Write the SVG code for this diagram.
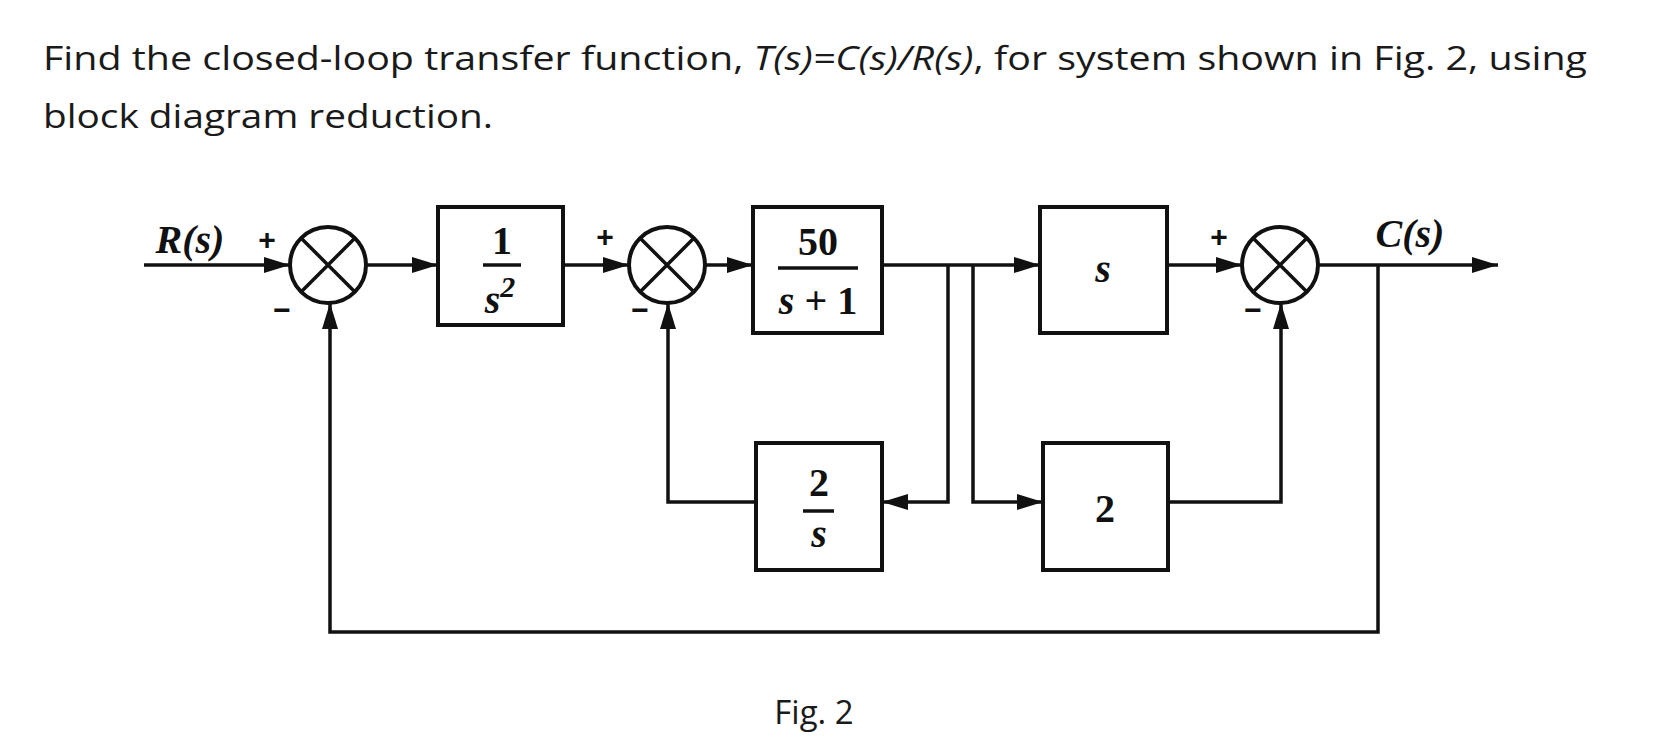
<svg xmlns="http://www.w3.org/2000/svg" width="1668" height="743" viewBox="0 0 1668 743">
<style>
.t{font-family:"Open Sans","Liberation Sans",sans-serif;font-size:33px;fill:#1a1a1a}
.b{fill:none;stroke:#111;stroke-width:4}
.l{fill:none;stroke:#111;stroke-width:3.5}
.m{font-family:"Liberation Serif",serif;font-size:40px;fill:#111;font-weight:bold;text-anchor:middle}
.i{font-style:italic}
.s{font-family:"Liberation Sans",sans-serif;font-size:30px;font-weight:bold;fill:#111;text-anchor:middle}
</style>
<defs>
<marker id="A" markerWidth="26" markerHeight="16" refX="26" refY="8" orient="auto" markerUnits="userSpaceOnUse"><path d="M0,0L26,8L0,16Z" fill="#111"/></marker>
</defs>
<rect width="1668" height="743" fill="#fff"/>
<text class="t" x="43" y="70" textLength="1544" lengthAdjust="spacingAndGlyphs">Find the closed-loop transfer function, <tspan class="i">T(s)=C(s)/R(s)</tspan>, for system shown in Fig. 2, using</text>
<text class="t" x="43" y="128" textLength="450" lengthAdjust="spacingAndGlyphs">block diagram reduction.</text>
<text class="t" x="814" y="724" text-anchor="middle">Fig. 2</text>

<g id="sum1"><circle class="b" cx="328" cy="265" r="38"/><path class="l" d="M301,238L355,292M355,238L301,292"/></g>
<g id="sum2"><circle class="b" cx="667" cy="265" r="38"/><path class="l" d="M640,238L694,292M694,238L640,292"/></g>
<g id="sum3"><circle class="b" cx="1280" cy="265" r="38"/><path class="l" d="M1253,238L1307,292M1307,238L1253,292"/></g>

<g id="g1"><rect class="b" x="438" y="207" width="125" height="118"/><text class="m" x="502" y="254">1</text><line class="l" x1="483" y1="265" x2="521" y2="265"/><text class="m i" x="500" y="313">s<tspan dy="-16" font-size="30">2</tspan></text></g>
<g id="g2"><rect class="b" x="753" y="207" width="129" height="126"/><text class="m" x="818" y="255">50</text><line class="l" x1="778" y1="268" x2="858" y2="268"/><text class="m" x="818" y="314"><tspan class="i">s</tspan> + 1</text></g>
<g id="g3"><rect class="b" x="1040" y="207" width="127" height="126"/><text class="m i" x="1103" y="282">s</text></g>
<g id="g4"><rect class="b" x="756" y="443" width="126" height="127"/><text class="m" x="819" y="496">2</text><line class="l" x1="803" y1="511" x2="834" y2="511"/><text class="m i" x="819" y="547">s</text></g>
<g id="g5"><rect class="b" x="1043" y="443" width="125" height="127"/><text class="m" x="1105" y="522">2</text></g>

<g id="labels">
<text class="m i" x="190" y="253">R(s)</text>
<text class="m i" x="1410" y="247">C(s)</text>
<text class="s" x="267" y="250">+</text>
<text class="s" x="605" y="247">+</text>
<text class="s" x="1219" y="247">+</text>
<text class="s" x="282" y="320">−</text>
<text class="s" x="640" y="320">−</text>
<text class="s" x="1253" y="320">−</text>
</g>

<g id="connectors">
<line class="l" x1="144" y1="265" x2="290" y2="265" marker-end="url(#A)"/>
<line class="l" x1="366" y1="265" x2="438" y2="265" marker-end="url(#A)"/>
<line class="l" x1="563" y1="265" x2="629" y2="265" marker-end="url(#A)"/>
<line class="l" x1="705" y1="265" x2="753" y2="265" marker-end="url(#A)"/>
<line class="l" x1="882" y1="265" x2="1040" y2="265" marker-end="url(#A)"/>
<line class="l" x1="1167" y1="265" x2="1242" y2="265" marker-end="url(#A)"/>
<line class="l" x1="1318" y1="265" x2="1498" y2="265" marker-end="url(#A)"/>
<polyline class="l" points="948,265 948,502 882,502" marker-end="url(#A)"/>
<polyline class="l" points="756,502 668,502 668,303" marker-end="url(#A)"/>
<polyline class="l" points="973,265 973,502 1043,502" marker-end="url(#A)"/>
<polyline class="l" points="1168,502 1281,502 1281,303" marker-end="url(#A)"/>
<polyline class="l" points="1378,265 1378,632 330,632 330,303" marker-end="url(#A)"/>
</g>
</svg>
